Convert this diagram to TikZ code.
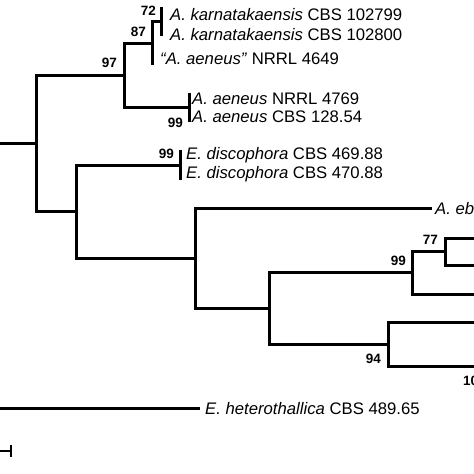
\documentclass[tikz,border=0pt]{standalone}
\usepackage{fontspec}
\setmainfont{Liberation Sans}
\begin{document}
\begin{tikzpicture}[x=1pt,y=-1pt,
  br/.style={line width=3pt},
  scalebar/.style={line width=1.8pt},
  lbl/.style={anchor=base west, inner sep=0pt, font=\fontsize{16.7}{18}\selectfont},
  bs/.style={anchor=base east, inner sep=0pt, font=\bfseries\fontsize{13.5}{15}\selectfont},
  bsw/.style={anchor=base west, inner sep=0pt, font=\bfseries\fontsize{13.5}{15}\selectfont}]
\useasboundingbox (0,0) rectangle (474,474);
\clip (0,0) rectangle (474,474);
% internal nodes
\coordinate (L1) at (0,143.5);
\coordinate (r1) at (36,143.5);
\coordinate (a) at (124,75.5);
\coordinate (b) at (152,43.5);
\coordinate (d) at (161,21.5);
\coordinate (c) at (189,107.5);
\coordinate (f) at (76,211.5);
\coordinate (g) at (180,165);
\coordinate (h) at (195,258);
\coordinate (i) at (269,308.5);
\coordinate (j) at (412,272.5);
\coordinate (l) at (445,251.5);
\coordinate (k) at (388,344);
% tips
\coordinate (t1) at (161,7);
\coordinate (t2) at (161,36);
\coordinate (t3) at (152,65);
\coordinate (t4) at (189,93);
\coordinate (t5) at (189,122);
\coordinate (t6) at (180,150);
\coordinate (t7) at (180,180);
\coordinate (t8) at (432,208);
\coordinate (t9) at (480,238);
\coordinate (t10) at (480,265);
\coordinate (t11) at (480,294);
\coordinate (t12) at (480,322);
\coordinate (t13) at (480,366);
\coordinate (H0) at (0,408);
\coordinate (H1) at (200,408);
\coordinate (S0) at (0,451);
\coordinate (S1) at (11,451);
\coordinate (S1a) at (11,445);
\coordinate (S1b) at (11,457);
% branches
\draw[br] (L1) -- (r1);
\draw[br] (r1) |- (a);
\draw[br] (r1) |- (f);
\draw[br] (a) |- (b);
\draw[br] (a) |- (c);
\draw[br] (b) |- (d);
\draw[br] (b) |- (t3);
\draw[br] (d) |- (t1);
\draw[br] (d) |- (t2);
\draw[br] (c) |- (t4);
\draw[br] (c) |- (t5);
\draw[br] (f) |- (g);
\draw[br] (f) |- (h);
\draw[br] (g) |- (t6);
\draw[br] (g) |- (t7);
\draw[br] (h) |- (t8);
\draw[br] (h) |- (i);
\draw[br] (i) |- (j);
\draw[br] (i) |- (k);
\draw[br] (j) |- (l);
\draw[br] (j) |- (t11);
\draw[br] (l) |- (t9);
\draw[br] (l) |- (t10);
\draw[br] (k) |- (t12);
\draw[br] (k) |- (t13);
\draw[br] (H0) -- (H1);
\draw[scalebar] (S0) -- (S1);
\draw[scalebar] (S1a) -- (S1b);
% tip labels
\node[lbl] (n1) at (170,20) {\textit{A. karnatakaensis} CBS 102799};
\node[lbl] (n2) at (170,40) {\textit{A. karnatakaensis} CBS 102800};
\node[lbl] (n3) at (160,64) {\textit{“A. aeneus”} NRRL 4649};
\node[lbl] (n4) at (192,104) {\textit{A. aeneus} NRRL 4769};
\node[lbl] (n5) at (192,122) {\textit{A. aeneus} CBS 128.54};
\node[lbl] (n6) at (186,159) {\textit{E. discophora} CBS 469.88};
\node[lbl] (n7) at (186,178) {\textit{E. discophora} CBS 470.88};
\node[lbl] (n8) at (435,214) {\textit{A. eb}};
\node[lbl] (n9) at (205,414) {\textit{E. heterothallica} CBS 489.65};
% bootstrap values
\node[bs] (b72) at (156,15.5) {72};
\node[bs] (b87) at (146,36.5) {87};
\node[bs] (b97) at (117,67) {97};
\node[bs] (b99a) at (183,127) {99};
\node[bs] (b99b) at (174,158) {99};
\node[bs] (b77) at (438,244) {77};
\node[bs] (b99c) at (406,265) {99};
\node[bs] (b94) at (381,363) {94};
\node[bsw] (b10) at (463,385) {10};
\end{tikzpicture}
\end{document}
